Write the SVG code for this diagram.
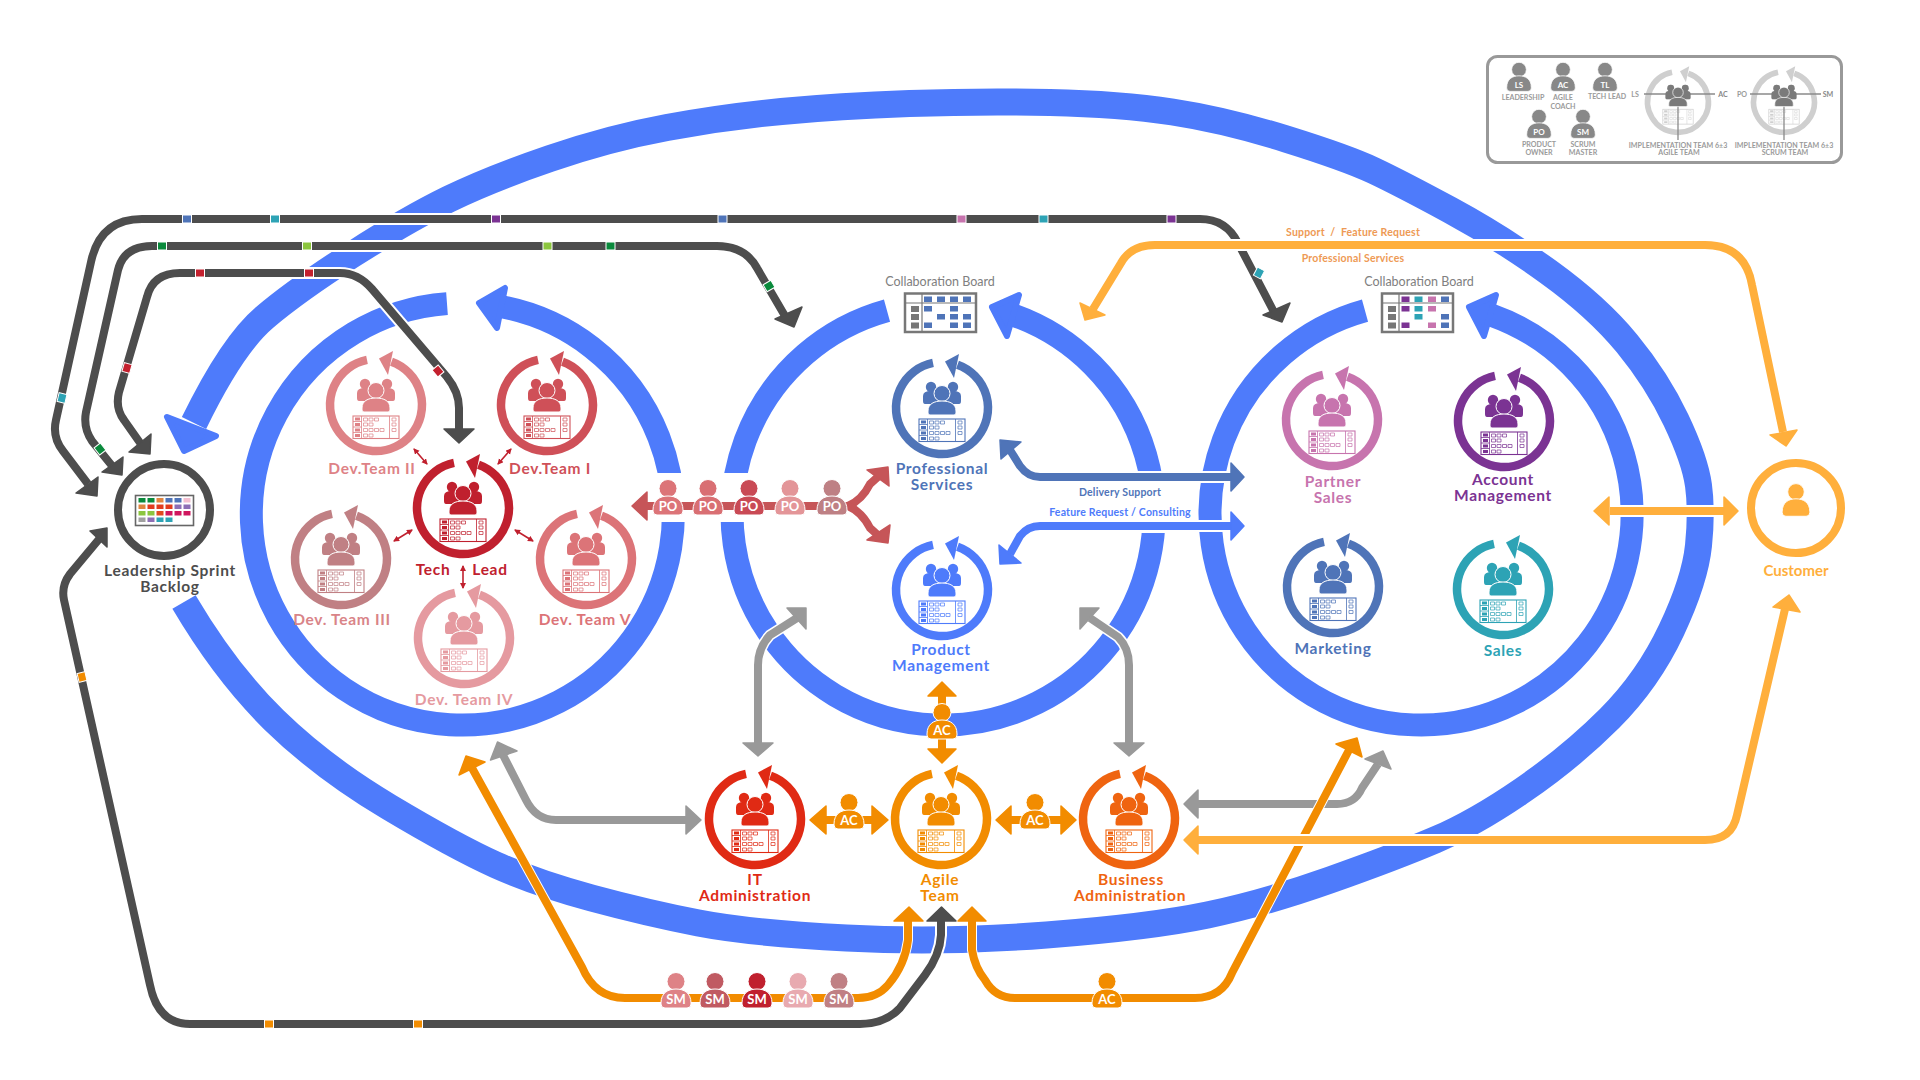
<svg xmlns="http://www.w3.org/2000/svg" width="1920" height="1080" viewBox="0 0 1920 1080">
<style>
text{font-family:"Lato","Open Sans","Liberation Sans",sans-serif;font-weight:700;text-anchor:middle}
.band{fill:none;stroke:#4e7bfb;stroke-width:27}
.ring{fill:none;stroke:#4e7bfb;stroke-width:23}
.bh{fill:#4e7bfb;stroke:#4e7bfb;stroke-width:6;stroke-linejoin:round}
.halo{fill:none;stroke:#fff;stroke-width:12}
.dk{fill:none;stroke:#4d4d4d;stroke-width:8}
.gr{fill:none;stroke:#999;stroke-width:8}
.or{fill:none;stroke:#f28c00;stroke-width:8}
.lo{fill:none;stroke:#ffaf3c;stroke-width:8}
.ds{fill:none;stroke:#4f74b8;stroke-width:8}
.fr{fill:none;stroke:#4e7bfb;stroke-width:8}
.po{fill:none;stroke:#c65558;stroke-width:8}
.h-dk{fill:#4d4d4d;stroke:#4d4d4d}.h-gr{fill:#999;stroke:#999}.h-or{fill:#f28c00;stroke:#f28c00}.h-lo{fill:#ffaf3c;stroke:#ffaf3c}.h-ds{fill:#4f74b8;stroke:#4f74b8}.h-fr{fill:#4e7bfb;stroke:#4e7bfb}.h-po{fill:#c65558;stroke:#c65558}
polygon{stroke-width:1.5;stroke-linejoin:round}
.st{stroke:#fff;stroke-width:1}
.sm{stroke:#c0202e;stroke-width:1.6;fill:none;marker-start:url(#tiny);marker-end:url(#tiny)}
.lab{font-size:15.5px;letter-spacing:.7px}
.cb{font-size:12.5px;fill:#808080;font-weight:400}
.cbox{fill:#fff;stroke:#777;stroke-width:2.5}
.cg{fill:#777}
.cl{stroke:#777;stroke-width:1.2}
.bb{fill:#4f74b8}.tq{fill:#2da3b5}.pu{fill:#7b3393}.pk{fill:#c774ae}
.small{font-size:10.5px;letter-spacing:.2px;white-space:pre}
.pl{fill:#fff;font-size:13px}
.lg{font-size:7.1px;fill:#9a9a9a}
.lgl{stroke:#8a8a8a;stroke-width:1.3;fill:none}
</style>
<defs>
<marker id="tiny" markerWidth="7" markerHeight="7" refX="5" refY="3" orient="auto-start-reverse" markerUnits="userSpaceOnUse"><path d="M0 0L6 3L0 6Z" fill="#c0202e"/></marker>
<g id="person">
<circle cx="0" cy="-17.5" r="9" fill="currentColor" stroke="#fff" stroke-width="1"/>
<path d="M-15 4C-15-6-8-10 0-10C8-10 15-6 15 4V5Q15 9 11 9H-11Q-15 9-15 5Z" fill="currentColor" stroke="#fff" stroke-width="1"/>
</g>
<g id="board">
<rect x="-23" y="11" width="46" height="22.5" fill="#fff" stroke="currentColor" stroke-width="1.1"/>
<path d="M-14.5 11V33.5M13.5 11V33.5M-23 16.5H-14.5M-23 22H-14.5M-23 27.5H-14.5" stroke="currentColor" stroke-width=".8" fill="none"/>
<path d="M-21 12.5h5v3h-5zM-21 18h5v3h-5zM-21 23.5h5v3h-5zM-21 29h5v3h-5z" fill="currentColor"/>
<path d="M-12.500 13h4v3h-4zM-7 13h4v3h-4zM-1.500 13h4v3h-4zM-12.500 18h4v3h-4zM-7 18h4v3h-4zM-12.500 23.500h4v3h-4zM-7 23.500h4v3h-4zM-1.500 23.500h4v3h-4zM4 23.500h4v3h-4zM-12.500 29h4v3h-4zM-7 29h4v3h-4zM16 13h4v3h-4zM16 18h4v3h-4zM16 23.500h4v3h-4z" fill="none" stroke="currentColor" stroke-width=".7"/>
</g>
<g id="people">
<circle cx="-11" cy="-21" r="5.200" fill="currentColor"/><circle cx="11" cy="-21" r="5.200" fill="currentColor"/>
<path d="M-19-12Q-19-17-11-17Q-3-17-3-12V-4H-17Q-19-4-19-7Z" fill="currentColor"/>
<path d="M19-12Q19-17 11-17Q3-17 3-12V-4H17Q19-4 19-7Z" fill="currentColor"/>
<circle cx="0" cy="-14.500" r="8" fill="currentColor" stroke="#fff" stroke-width="1"/>
<path d="M-14 3C-14-4-8-7 0-7C8-7 14-4 14 3V5Q14 7 12 7H-12Q-14 7-14 5Z" fill="currentColor" stroke="#fff" stroke-width="1"/>
</g>
<g id="team">
<path d="M-9-45.100A46 46 0 1 0 15.500-43.300" fill="none" stroke="currentColor" stroke-width="8.500"/>
<path d="M17-54L3-46.500L12-30Z" fill="currentColor"/>
<use href="#people"/>
<use href="#board"/>
</g>
<path id="c1" d="M88 484L63 451Q52 437 56 420L91 262Q100 219 142 219L1200 219Q1226 219 1238 243L1274 312"/>
<path id="c2" d="M113 467L92 441Q83 428 86 412L118 270Q124 246 152 246L717 246Q745 246 757 268L785 316"/>
<path id="c3" d="M143 447L124 420Q115 408 119 392L147 297Q153 273 180 273L340 273Q358 273 372 289L447 377Q459 392 459 408L459 430"/>
<path id="c4" d="M100 538L70 574Q61 586 64 600L150 985Q158 1024 190 1024L860 1024Q885 1024 900 1008L925 975Q940 955 941 935L941 921"/>
<path id="c5" d="M472 768L582 967Q595 998 625 998L858 998Q877 998 888 985Q905 965 908 940L908 921"/>
<path id="c6" d="M972 921L972 950Q975 968 985 980Q995 998 1015 998L1195 998Q1222 998 1232 973L1349 750"/>
<path id="c7" d="M503 755L526 800Q536 820 556 820L688 820"/>
<path id="c8" d="M758 745L758 665Q758 648 770 635L797 618"/>
<path id="c9" d="M1129 745L1129 665Q1129 648 1118 637L1090 618"/>
<path id="c10" d="M1198 804L1337 804Q1355 804 1362 788L1378 764"/>
<path id="c11" d="M1198 840L1705 840Q1732 840 1737 815L1785 609"/>
<path id="c12" d="M1093 309L1121 263Q1131 245 1155 245L1705 245Q1745 245 1752 285L1783 432"/>
<path id="c13" d="M1231 477L1040 477Q1028 477 1020 466L1010 450"/>
<path id="c14" d="M1231 526L1040 526Q1028 526 1020 536L1010 554"/>
<path id="c15" d="M1610 511L1724 511"/>
</defs>
<rect width="1920" height="1080" fill="#fff"/>
<g id="cycles">
<path class="band" d="M194 423Q232 345 264.500 317.500Q297 290 352.500 254.500Q408 219 449 199Q490 179 550 158.500Q610 138 667 127.500Q724 117 781.500 111.500Q839 106 909.500 103.500Q980 101 1050 102.500Q1120 104 1172.500 112Q1225 120 1286 139Q1347 158 1373.500 170.500Q1400 183 1450 210Q1500 237 1548.500 272Q1597 307 1627 343.500Q1657 380 1676 420Q1695 460 1698.500 485.500Q1702 511 1698.500 545.500Q1695 580 1671.500 630Q1648 680 1609.500 718.500Q1571 757 1523 790Q1475 823 1435 840Q1395 857 1330 880Q1265 903 1207.500 915Q1150 927 1046.500 935Q943 943 846.500 938Q750 933 698.500 923Q647 913 591.500 898Q536 883 496 865Q456 847 389 807Q322 767 274 720Q226 673 184 602"/>
<polygon class="bh" style="stroke-width:6" points="167,417 216,436 184,451"/>
<path class="ring" d="M447 303.600A211 211 0 1 0 503 307"/>
<polygon class="bh" style="stroke-width:6" points="479,303 505,288 497,328"/>
<path class="ring" d="M887 310.600A211 211 0 1 0 1014 315.300"/>
<polygon class="bh" style="stroke-width:6" points="992,307 1019,295 1007,336"/>
<path class="ring" d="M1365 310.600A211 211 0 1 0 1492 315.300"/>
<polygon class="bh" style="stroke-width:6" points="1469,307 1496,295 1484,336"/>
<rect x="650" y="473" width="110" height="49" fill="#fff"/>
<rect x="1122" y="472" width="56" height="61" fill="#fff"/>
</g>
<g id="connectors">
<use href="#c1" class="halo"/><use href="#c1" class="dk"/>
<polygon class="h-dk" points="97,496 76,493 98,477"/><polygon class="h-dk" points="1282,322 1263,315 1290,303"/>
<use href="#c2" class="halo"/><use href="#c2" class="dk"/>
<polygon class="h-dk" points="122,475 102,472 123,457"/><polygon class="h-dk" points="794,327 775,319 802,307"/>
<use href="#c3" class="halo"/><use href="#c3" class="dk"/>
<polygon class="h-dk" points="150,454 129,452 151,434"/><polygon class="h-dk" points="459,443 444,429 474,429"/>
<use href="#c4" class="halo"/><use href="#c4" class="dk"/>
<polygon class="h-dk" points="107,528 90,531 107,547"/><polygon class="h-dk" points="941.500,907 927,921 956,921"/>
<g id="stops">
<rect class="st" x="182.500" y="215" width="9" height="8" fill="#4f74b8"/><rect class="st" x="270.500" y="215" width="9" height="8" fill="#2da3b5"/><rect class="st" x="491.500" y="215" width="9" height="8" fill="#7b3393"/><rect class="st" x="718" y="215" width="9" height="8" fill="#4f74b8"/><rect class="st" x="957" y="215" width="9" height="8" fill="#c774ae"/><rect class="st" x="1039" y="215" width="9" height="8" fill="#2da3b5"/><rect class="st" x="1167" y="215" width="9" height="8" fill="#7b3393"/>
<rect class="st" x="-4.500" y="-4" width="9" height="8" fill="#2da3b5" transform="translate(1259 273) rotate(-62)"/>
<rect class="st" x="-4" y="-4.500" width="8" height="9" fill="#2da3b5" transform="translate(62 398) rotate(13)"/>
<rect class="st" x="157.500" y="242" width="9" height="8" fill="#0a8a3c"/><rect class="st" x="302.500" y="242" width="9" height="8" fill="#8cc63f"/><rect class="st" x="543" y="242" width="9" height="8" fill="#8cc63f"/><rect class="st" x="606" y="242" width="9" height="8" fill="#0a8a3c"/>
<rect class="st" x="-4.500" y="-4" width="9" height="8" fill="#0a8a3c" transform="translate(769 286) rotate(-30)" />
<rect class="st" x="-4.500" y="-4" width="9" height="8" fill="#0a8a3c" transform="translate(100 449) rotate(52)"/>
<rect class="st" x="195.500" y="269" width="9" height="8" fill="#c4202e"/><rect class="st" x="304.500" y="269" width="9" height="8" fill="#c4202e"/>
<rect class="st" x="-4" y="-4.500" width="8" height="9" fill="#c4202e" transform="translate(127 368) rotate(16)"/>
<rect class="st" x="-4.500" y="-4" width="9" height="8" fill="#c4202e" transform="translate(438 371) rotate(50)"/>
<rect class="st" x="264.500" y="1020" width="9" height="8" fill="#f28c00"/><rect class="st" x="413.500" y="1020" width="9" height="8" fill="#f28c00"/>
<rect class="st" x="-4" y="-4.500" width="8" height="9" fill="#f28c00" transform="translate(82 677) rotate(-13)"/>
</g>
<use href="#c7" class="halo" style="stroke-width:10"/><use href="#c7" class="gr"/>
<polygon class="h-gr" points="497.500,742 517,751 490.500,760"/><polygon class="h-gr" points="701,820 686,806 686,834"/>
<use href="#c8" class="halo" style="stroke-width:11"/><use href="#c8" class="gr"/>
<polygon class="h-gr" points="806,608 787,608 806,629"/><polygon class="h-gr" points="758,756 743,743 773,743"/>
<use href="#c9" class="halo" style="stroke-width:11"/><use href="#c9" class="gr"/>
<polygon class="h-gr" points="1080,608 1099,608 1080,629"/><polygon class="h-gr" points="1129,756 1114,743 1144,743"/>
<use href="#c10" class="gr"/>
<polygon class="h-gr" points="1184,804 1198,790 1198,818"/><polygon class="h-gr" points="1383,751 1365,759 1391,769"/>
<use href="#c5" class="halo" style="stroke-width:10"/><use href="#c5" class="or"/>
<polygon class="h-or" points="466,756 485,762 459,775"/><polygon class="h-or" points="909,907 894,921 923,921"/>
<use href="#c6" class="halo" style="stroke-width:10"/><use href="#c6" class="or"/>
<polygon class="h-or" points="972,907 958,921 986,921"/><polygon class="h-or" points="1357,738 1336,744 1362,757"/>
<use href="#c11" class="halo"/><use href="#c11" class="lo"/>
<polygon class="h-lo" points="1184,840 1198,826 1198,854"/><polygon class="h-lo" points="1789,595 1773,607 1800,612"/>
<use href="#c12" class="halo"/><use href="#c12" class="lo"/>
<polygon class="h-lo" points="1085,320 1080,303 1105,315"/><polygon class="h-lo" points="1786,446 1770,435 1797,430"/>
<use href="#c13" class="halo"/><use href="#c13" class="ds"/>
<polygon class="h-ds" points="1244,477 1231,463 1231,491"/><polygon class="h-ds" points="1000,440 1021,442 1001,459"/>
<use href="#c14" class="halo"/><use href="#c14" class="fr"/>
<polygon class="h-fr" points="1244,526 1231,512 1231,540"/><polygon class="h-fr" points="1000,564 999,545 1021,563"/>
<use href="#c15" class="halo"/><use href="#c15" class="lo"/>
<polygon class="h-lo" points="1594,511 1609,497 1609,525"/><polygon class="h-lo" points="1738,511 1724,497 1724,525"/>
<path class="po" d="M647 506L850 506"/>
<path class="po" d="M848 506Q862 500 870 484L880 475"/><path class="po" d="M848 506Q862 512 870 528L880 537"/>
<polygon class="h-po" points="632,506 647,492 647,520"/><polygon class="h-po" points="888,467 867,470 889,486"/><polygon class="h-po" points="888,543 867,540 890,525"/>
<path class="or" d="M942 696L942 749"/><polygon class="h-or" points="942,682 928,696 956,696"/><polygon class="h-or" points="942,763 928,749 956,749"/>
<path class="or" d="M826 820L872 820"/><polygon class="h-or" points="810,820 826,806 826,834"/><polygon class="h-or" points="888,820 872,806 872,834"/>
<path class="or" d="M1011 820L1061 820"/><polygon class="h-or" points="996,820 1011,806 1011,834"/><polygon class="h-or" points="1076,820 1061,806 1061,834"/>
<path class="sm" d="M414 449L427 464"/><path class="sm" d="M511 449L498 464"/><path class="sm" d="M412 530L394 541"/><path class="sm" d="M515 530L533 541"/><path class="sm" d="M463 566L463 588"/>
<text class="small" x="1120" y="496" fill="#4f74b8">Delivery Support</text>
<text class="small" x="1120" y="516" fill="#4e7bfb">Feature Request / Consulting</text>
<text class="small" x="1353" y="236" fill="#ee9a55">Support  /  Feature Request</text>
<text class="small" x="1353" y="262" fill="#ee9a55">Professional Services</text>
</g>
<g id="backlog">
<circle cx="164" cy="510" r="46" fill="#fff" stroke="#4d4d4d" stroke-width="8"/>
<rect x="135.500" y="495.500" width="58" height="30" fill="#fff" stroke="#666" stroke-width="1.600"/>
<g>
<rect x="138.500" y="498" width="7" height="4.500" fill="#0a8a3c"/><rect x="147.500" y="498" width="7" height="4.500" fill="#0a8a3c"/><rect x="156.500" y="498" width="7" height="4.500" fill="#e0853f"/><rect x="165.500" y="498" width="7" height="4.500" fill="#4f74b8"/><rect x="174.500" y="498" width="7" height="4.500" fill="#4f74b8"/><rect x="183.500" y="498" width="7" height="4.500" fill="#f3bfd0"/>
<rect x="138.500" y="504.500" width="7" height="4.500" fill="#e0853f"/><rect x="147.500" y="504.500" width="7" height="4.500" fill="#e23c1e"/><rect x="156.500" y="504.500" width="7" height="4.500" fill="#e23c1e"/><rect x="165.500" y="504.500" width="7" height="4.500" fill="#e23c1e"/><rect x="174.500" y="504.500" width="7" height="4.500" fill="#8d6fb5"/><rect x="183.500" y="504.500" width="7" height="4.500" fill="#8d6fb5"/>
<rect x="138.500" y="511" width="7" height="4.500" fill="#8cc63f"/><rect x="147.500" y="511" width="7" height="4.500" fill="#8cc63f"/><rect x="156.500" y="511" width="7" height="4.500" fill="#e04a20"/><rect x="165.500" y="511" width="7" height="4.500" fill="#d0165e"/><rect x="174.500" y="511" width="7" height="4.500" fill="#d0165e"/><rect x="183.500" y="511" width="7" height="4.500" fill="#d0165e"/>
<rect x="138.500" y="517.500" width="7" height="4.500" fill="#a0a0a0"/><rect x="147.500" y="517.500" width="7" height="4.500" fill="#8d6fb5"/><rect x="156.500" y="517.500" width="7" height="4.500" fill="#2da3b5"/><rect x="165.500" y="517.500" width="7" height="4.500" fill="#2da3b5"/>
</g>
<text class="lab" x="170" y="576" fill="#4d4d4d">Leadership Sprint</text>
<text class="lab" x="170" y="592" fill="#4d4d4d">Backlog</text>
</g>
<g id="board-middle">
<text class="cb" x="940" y="286">Collaboration Board</text>
<rect class="cbox" x="905" y="293.500" width="71" height="38.500"/>
<path class="cl" d="M922 294V332M905 303H976"/>
<rect class="cg" x="911" y="306" width="8" height="6"/><rect class="cg" x="911" y="314" width="8" height="6"/><rect class="cg" x="911" y="322.500" width="8" height="6"/>
<g class="bb"><rect x="924" y="296.500" width="8" height="5.500"/><rect x="937" y="296.500" width="8" height="5.500"/><rect x="950" y="296.500" width="8" height="5.500"/><rect x="963" y="296.500" width="8" height="5.500"/><rect x="924" y="306" width="8" height="5.500"/><rect x="950" y="306" width="8" height="5.500"/><rect x="937" y="314" width="8" height="5.500"/><rect x="950" y="314" width="8" height="5.500"/><rect x="963" y="314" width="8" height="5.500"/><rect x="924" y="322.500" width="8" height="5.500"/><rect x="950" y="322.500" width="8" height="5.500"/><rect x="963" y="322.500" width="8" height="5.500"/></g>
</g>
<g id="board-right">
<text class="cb" x="1419" y="286">Collaboration Board</text>
<rect class="cbox" x="1382" y="293.500" width="71" height="38.500"/>
<path class="cl" d="M1399 294V332M1382 303H1453"/>
<rect class="cg" x="1388" y="306" width="8" height="6"/><rect class="cg" x="1388" y="314" width="8" height="6"/><rect class="cg" x="1388" y="322.500" width="8" height="6"/>
<rect class="pu" x="1401.500" y="296.500" width="8" height="5.500"/><rect class="tq" x="1414.500" y="296.500" width="8" height="5.500"/><rect class="pk" x="1428" y="296.500" width="8" height="5.500"/><rect class="bb" x="1441" y="296.500" width="8" height="5.500"/>
<rect class="pu" x="1401.500" y="306" width="8" height="5.500"/><rect class="tq" x="1414.500" y="306" width="8" height="5.500"/><rect class="pk" x="1428" y="306" width="8" height="5.500"/>
<rect class="tq" x="1414.500" y="314" width="8" height="5.500"/><rect class="bb" x="1441" y="314" width="8" height="5.500"/>
<rect class="pu" x="1401.500" y="322.500" width="8" height="5.500"/><rect class="pk" x="1428" y="322.500" width="8" height="5.500"/><rect class="bb" x="1441" y="322.500" width="8" height="5.500"/>
</g>
<g id="dev-team-ii" style="color:#de8286"><use href="#team" x="376" y="405"/><text class="lab" x="372" y="474" fill="currentColor">Dev.Team II</text></g>
<g id="dev-team-i" style="color:#cf5058"><use href="#team" x="547" y="405"/><text class="lab" x="550" y="474" fill="currentColor">Dev.Team I</text></g>
<g id="tech-lead" style="color:#c0202e"><use href="#team" x="463" y="508"/><text class="lab" x="433" y="575" fill="currentColor">Tech</text><text class="lab" x="490" y="575" fill="currentColor">Lead</text></g>
<g id="dev-team-iii" style="color:#c08084"><use href="#team" x="341" y="559"/><text class="lab" x="342" y="625" fill="#d98488">Dev. Team III</text></g>
<g id="dev-team-v" style="color:#dc7478"><use href="#team" x="586" y="559"/><text class="lab" x="585" y="625" fill="currentColor">Dev. Team V</text></g>
<g id="dev-team-iv" style="color:#e59aa0"><use href="#team" x="464" y="638"/><text class="lab" x="464" y="705" fill="currentColor">Dev. Team IV</text></g>
<g id="professional-services" style="color:#4f74b8"><use href="#team" x="942" y="408"/><text class="lab" x="942" y="474" fill="currentColor">Professional</text><text class="lab" x="942" y="490" fill="currentColor">Services</text></g>
<g id="product-management" style="color:#4e7bfb"><use href="#team" x="942" y="590"/><text class="lab" x="941" y="655" fill="currentColor">Product</text><text class="lab" x="941" y="671" fill="currentColor">Management</text></g>
<g id="partner-sales" style="color:#c774ae"><use href="#team" x="1332" y="420"/><text class="lab" x="1333" y="487" fill="currentColor">Partner</text><text class="lab" x="1333" y="503" fill="currentColor">Sales</text></g>
<g id="account-management" style="color:#7b3393"><use href="#team" x="1504" y="421"/><text class="lab" x="1503" y="485" fill="currentColor">Account</text><text class="lab" x="1503" y="501" fill="currentColor">Management</text></g>
<g id="marketing" style="color:#4f74b8"><use href="#team" x="1333" y="587"/><text class="lab" x="1333" y="654" fill="currentColor">Marketing</text></g>
<g id="sales" style="color:#2da3b5"><use href="#team" x="1503" y="589"/><text class="lab" x="1503" y="656" fill="currentColor">Sales</text></g>
<g id="customer" style="color:#ffaf3c"><circle cx="1796" cy="508" r="45" fill="#fff" stroke="currentColor" stroke-width="8"/><use href="#person" transform="translate(1796 508) scale(.92)"/><text x="1796" y="576" font-size="15" fill="currentColor">Customer</text></g>
<g id="it-administration" style="color:#e02a14"><use href="#team" x="755" y="819"/><text class="lab" x="755" y="885" fill="currentColor">IT</text><text class="lab" x="755" y="901" fill="currentColor">Administration</text></g>
<g id="agile-team" style="color:#f28c00"><use href="#team" x="941" y="819"/><text class="lab" x="940" y="885" fill="currentColor">Agile</text><text class="lab" x="940" y="901" fill="currentColor">Team</text></g>
<g id="business-administration" style="color:#ef6410"><use href="#team" x="1129" y="819"/><text class="lab" x="1131" y="885" fill="currentColor">Business</text><text class="lab" x="1130" y="901" fill="currentColor">Administration</text></g>
<g id="product-owners">
<g style="color:#dc7478"><use href="#person" x="668" y="506"/><text class="pl" x="668" y="511">PO</text></g>
<g style="color:#d96f73"><use href="#person" x="708" y="506"/><text class="pl" x="708" y="511">PO</text></g>
<g style="color:#c94a55"><use href="#person" x="749" y="506"/><text class="pl" x="749" y="511">PO</text></g>
<g style="color:#e39598"><use href="#person" x="790" y="506"/><text class="pl" x="790" y="511">PO</text></g>
<g style="color:#be8084"><use href="#person" x="832" y="506"/><text class="pl" x="832" y="511">PO</text></g>
</g>
<g id="scrum-masters">
<g style="color:#de8286"><use href="#person" x="676" y="999"/><text class="pl" x="676" y="1004">SM</text></g>
<g style="color:#c05a62"><use href="#person" x="715" y="999"/><text class="pl" x="715" y="1004">SM</text></g>
<g style="color:#c0202e"><use href="#person" x="757" y="999"/><text class="pl" x="757" y="1004">SM</text></g>
<g style="color:#e8aab0"><use href="#person" x="798" y="999"/><text class="pl" x="798" y="1004">SM</text></g>
<g style="color:#c08084"><use href="#person" x="839" y="999"/><text class="pl" x="839" y="1004">SM</text></g>
</g>
<g id="agile-coaches" style="color:#f28c00">
<use href="#person" x="942" y="730"/><text class="pl" x="942" y="735">AC</text>
<use href="#person" x="849" y="820"/><text class="pl" x="849" y="825">AC</text>
<use href="#person" x="1035" y="820"/><text class="pl" x="1035" y="825">AC</text>
<use href="#person" x="1107" y="999"/><text class="pl" x="1107" y="1004">AC</text>
</g>
<g id="legend">
<rect x="1487.500" y="56.500" width="354" height="106" rx="10" fill="#fff" stroke="#999" stroke-width="3"/>
<g style="color:#888">
<use href="#person" transform="translate(1519 84) scale(.82)"/><text x="1519" y="87.500" font-size="8" fill="#fff">LS</text>
<use href="#person" transform="translate(1563 84) scale(.82)"/><text x="1563" y="87.500" font-size="8" fill="#fff">AC</text>
<use href="#person" transform="translate(1605 84) scale(.82)"/><text x="1605" y="87.500" font-size="8" fill="#fff">TL</text>
<use href="#person" transform="translate(1539 131) scale(.82)"/><text x="1539" y="134.500" font-size="8" fill="#fff">PO</text>
<use href="#person" transform="translate(1583 131) scale(.82)"/><text x="1583" y="134.500" font-size="8" fill="#fff">SM</text>
</g>
<text class="lg" x="1523" y="100">LEADERSHIP</text>
<text class="lg" x="1563" y="100">AGILE</text><text class="lg" x="1563" y="108.500">COACH</text>
<text class="lg" x="1607" y="99">TECH LEAD</text>
<text class="lg" x="1539" y="146.500">PRODUCT</text><text class="lg" x="1539" y="155">OWNER</text>
<text class="lg" x="1583" y="146.500">SCRUM</text><text class="lg" x="1583" y="155">MASTER</text>
<g style="color:#cfcfcf">
<use href="#team" transform="translate(1678 102) scale(.66)"/>
<use href="#team" transform="translate(1784 102) scale(.66)"/>
</g>
<path class="lgl" d="M1644 94H1715M1678 94V140M1750 94H1821M1784 94V140"/>
<g style="color:#7a7a7a"><use href="#people" transform="translate(1678 102) scale(.66)"/><use href="#people" transform="translate(1784 102) scale(.66)"/></g>
<text class="lg" x="1635" y="96.500">LS</text><text class="lg" x="1723" y="96.500" style="fill:#888">AC</text>
<text class="lg" x="1742" y="96.500">PO</text><text class="lg" x="1828" y="96.500" style="fill:#888">SM</text>
<text class="lg" x="1678" y="148">IMPLEMENTATION TEAM 6±3</text><text class="lg" x="1679" y="155">AGILE TEAM</text>
<text class="lg" x="1784" y="148">IMPLEMENTATION TEAM 6±3</text><text class="lg" x="1785" y="155">SCRUM TEAM</text>
</g>
</svg>
